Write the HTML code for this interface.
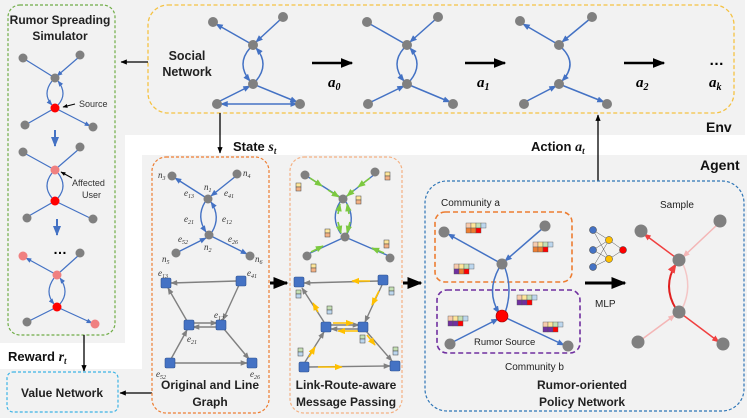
<!DOCTYPE html>
<html><head><meta charset="utf-8"><style>
html,body{margin:0;padding:0;background:#fff}
svg{display:block}
text{font-family:"Liberation Sans",sans-serif}
.b{font-weight:bold}
.m{font-family:"Liberation Serif",serif;font-style:italic;font-weight:bold}
.s{font-family:"Liberation Serif",serif;font-style:italic;font-size:9px;fill:#333}
</style></head><body>
<svg width="752" height="418" viewBox="0 0 752 418" xmlns="http://www.w3.org/2000/svg">
<defs>
<marker id="ab" viewBox="0 0 10 10" refX="9" refY="5" markerWidth="5" markerHeight="5" orient="auto-start-reverse"><path d="M0,1L10,5L0,9z" fill="#4472c4"/></marker>
<marker id="ak" viewBox="0 0 10 10" refX="9" refY="5" markerWidth="5" markerHeight="5" orient="auto"><path d="M0,1L10,5L0,9z" fill="#000"/></marker>
<marker id="ag" viewBox="0 0 10 10" refX="9" refY="5" markerWidth="5" markerHeight="5" orient="auto"><path d="M0,1L10,5L0,9z" fill="#808080"/></marker>
<marker id="agr" viewBox="0 0 10 10" refX="9" refY="5" markerWidth="5" markerHeight="5" orient="auto"><path d="M0,1L10,5L0,9z" fill="#7cc940"/></marker>
<marker id="ay" viewBox="0 0 10 10" refX="9" refY="5" markerWidth="5" markerHeight="5" orient="auto"><path d="M0,1L10,5L0,9z" fill="#ffc000"/></marker>
<marker id="ar" viewBox="0 0 10 10" refX="9" refY="5" markerWidth="5" markerHeight="5" orient="auto"><path d="M0,1L10,5L0,9z" fill="#f04040"/></marker>
<marker id="arl" viewBox="0 0 10 10" refX="9" refY="5" markerWidth="5" markerHeight="5" orient="auto"><path d="M0,1L10,5L0,9z" fill="#f4b6b6"/></marker>
<g id="ga">
<rect x="0" y="0" width="5" height="5" fill="#f8cbad" stroke="#555" stroke-width=".4"/><rect x="5" y="0" width="5" height="5" fill="#ffe699" stroke="#555" stroke-width=".4"/><rect x="10" y="0" width="5" height="5" fill="#c5e0b4" stroke="#555" stroke-width=".4"/><rect x="15" y="0" width="5" height="5" fill="#bdd7ee" stroke="#555" stroke-width=".4"/>
<rect x="0" y="5" width="5" height="5" fill="#ed7d31" stroke="#555" stroke-width=".4"/><rect x="5" y="5" width="5" height="5" fill="#ed7d31" stroke="#555" stroke-width=".4"/><rect x="10" y="5" width="5" height="5" fill="#ff0000" stroke="#555" stroke-width=".4"/>
</g>
<g id="gb">
<rect x="0" y="0" width="5" height="5" fill="#f8cbad" stroke="#555" stroke-width=".4"/><rect x="5" y="0" width="5" height="5" fill="#ffe699" stroke="#555" stroke-width=".4"/><rect x="10" y="0" width="5" height="5" fill="#c5e0b4" stroke="#555" stroke-width=".4"/><rect x="15" y="0" width="5" height="5" fill="#bdd7ee" stroke="#555" stroke-width=".4"/>
<rect x="0" y="5" width="5" height="5" fill="#7030a0" stroke="#555" stroke-width=".4"/><rect x="5" y="5" width="5" height="5" fill="#7030a0" stroke="#555" stroke-width=".4"/><rect x="10" y="5" width="5" height="5" fill="#ff0000" stroke="#555" stroke-width=".4"/>
</g>
<g id="gc">
<rect x="0" y="0" width="5" height="5" fill="#f8cbad" stroke="#555" stroke-width=".4"/><rect x="5" y="0" width="5" height="5" fill="#ffe699" stroke="#555" stroke-width=".4"/><rect x="10" y="0" width="5" height="5" fill="#c5e0b4" stroke="#555" stroke-width=".4"/><rect x="15" y="0" width="5" height="5" fill="#bdd7ee" stroke="#555" stroke-width=".4"/>
<rect x="0" y="5" width="5" height="5" fill="#7030a0" stroke="#555" stroke-width=".4"/><rect x="5" y="5" width="5" height="5" fill="#ed7d31" stroke="#555" stroke-width=".4"/><rect x="10" y="5" width="5" height="5" fill="#ff0000" stroke="#555" stroke-width=".4"/>
</g>
<g id="by"><rect x="0" y="0" width="5" height="4" fill="#ffe699" stroke="#444" stroke-width=".5"/><rect x="0" y="4" width="5" height="4" fill="#f4b183" stroke="#444" stroke-width=".5"/></g>
<g id="bb"><rect x="0" y="0" width="5" height="4" fill="#c5e0b4" stroke="#444" stroke-width=".5"/><rect x="0" y="4" width="5" height="4" fill="#bdd7ee" stroke="#444" stroke-width=".5"/></g>
</defs>

<!-- backgrounds -->
<rect x="0" y="0" width="752" height="418" fill="#fff"/>
<rect x="0" y="0" width="125" height="343" fill="#f2f2f2"/>
<rect x="125" y="0" width="620" height="135" fill="#f2f2f2"/>
<rect x="142" y="155" width="605" height="263" fill="#f2f2f2"/>
<rect x="0" y="369" width="150" height="49" fill="#f2f2f2"/>

<!-- Env -->
<rect x="148" y="5" width="586" height="108" rx="20" fill="none" stroke="#f5c242" stroke-width="1.3" stroke-dasharray="4,2.5"/>
<text x="187" y="60" font-size="12.5" text-anchor="middle" class="b" fill="#222">Social</text>
<text x="187" y="76" font-size="12.5" text-anchor="middle" class="b" fill="#222">Network</text>
<text x="706" y="132" font-size="14" class="b" fill="#111">Env</text>

<g stroke="#4472c4" stroke-width="1.5" fill="none">
<!-- graph 1 -->
<line x1="253" y1="45" x2="216" y2="24" marker-end="url(#ab)"/>
<line x1="282" y1="18" x2="256" y2="42" marker-end="url(#ab)"/>
<path d="M250,48 Q236,64 250,81" marker-end="url(#ab)"/>
<path d="M256,81 Q270,64 256,48" marker-end="url(#ab)"/>
<line x1="218" y1="102" x2="250" y2="86" marker-end="url(#ab)"/>
<line x1="253" y1="84" x2="297" y2="102" marker-end="url(#ab)"/>
<line x1="221" y1="104" x2="297" y2="104" marker-end="url(#ab)" marker-start="url(#ab)"/>
<!-- graph 2 -->
<line x1="407" y1="45" x2="370" y2="24" />
<line x1="437" y1="18" x2="410" y2="42" marker-end="url(#ab)"/>
<path d="M404,48 Q390,64 404,81" marker-end="url(#ab)"/>
<path d="M410,81 Q424,64 410,48" marker-end="url(#ab)"/>
<line x1="371" y1="102" x2="404" y2="86" marker-end="url(#ab)"/>
<line x1="407" y1="84" x2="450" y2="102" marker-end="url(#ab)"/>
<!-- graph 3 -->
<line x1="559" y1="45" x2="523" y2="24" marker-end="url(#ab)"/>
<line x1="591" y1="18" x2="562" y2="42" marker-end="url(#ab)"/>
<path d="M562,48 Q578,64 562,81" marker-end="url(#ab)"/>
<line x1="525" y1="102" x2="556" y2="86" marker-end="url(#ab)"/>
<line x1="559" y1="84" x2="604" y2="102" marker-end="url(#ab)"/>
</g>
<g fill="#808080">
<circle cx="213" cy="22" r="5"/><circle cx="283" cy="17" r="5"/><circle cx="253" cy="45" r="5"/><circle cx="253" cy="84" r="5"/><circle cx="217" cy="104" r="5"/><circle cx="300" cy="104" r="5"/>
<circle cx="367" cy="22" r="5"/><circle cx="438" cy="17" r="5"/><circle cx="407" cy="45" r="5"/><circle cx="407" cy="84" r="5"/><circle cx="368" cy="104" r="5"/><circle cx="453" cy="104" r="5"/>
<circle cx="520" cy="21" r="5"/><circle cx="592" cy="17" r="5"/><circle cx="559" cy="45" r="5"/><circle cx="559" cy="84" r="5"/><circle cx="524" cy="104" r="5"/><circle cx="607" cy="104" r="5"/>
</g>
<g stroke="#000" stroke-width="2.5"><line x1="312" y1="63" x2="352" y2="63" marker-end="url(#ak)"/><line x1="465" y1="63" x2="505" y2="63" marker-end="url(#ak)"/><line x1="624" y1="63" x2="664" y2="63" marker-end="url(#ak)"/></g>
<text x="328" y="87" font-size="15" class="m">a<tspan font-size="10" dy="3">0</tspan></text>
<text x="477" y="87" font-size="15" class="m">a<tspan font-size="10" dy="3">1</tspan></text>
<text x="636" y="87" font-size="15" class="m">a<tspan font-size="10" dy="3">2</tspan></text>
<text x="709" y="65" font-size="15" class="b">…</text>
<text x="709" y="87" font-size="15" class="m">a<tspan font-size="10" dy="3">k</tspan></text>

<!-- Simulator -->
<rect x="8" y="5" width="107" height="330" rx="12" fill="none" stroke="#70ad47" stroke-width="1.2" stroke-dasharray="3,2"/>
<text x="60" y="24" font-size="12" text-anchor="middle" class="b" fill="#222">Rumor Spreading</text>
<text x="60" y="40" font-size="12" text-anchor="middle" class="b" fill="#222">Simulator</text>
<g stroke="#4472c4" stroke-width="1.2" fill="none">
<line x1="55" y1="78" x2="26" y2="60" /><line x1="79" y1="57" x2="57" y2="76" marker-end="url(#ab)"/>
<path d="M52,81 Q42,94 52,105" marker-end="url(#ab)"/><path d="M58,105 Q68,94 58,81" marker-end="url(#ab)"/>
<line x1="55" y1="108" x2="27" y2="124"/><line x1="55" y1="108" x2="90" y2="126" marker-end="url(#ab)"/>
<line x1="55" y1="170" x2="26" y2="154" /><line x1="79" y1="149" x2="57" y2="168" />
<path d="M52,173 Q42,186 52,198" /><path d="M58,198 Q68,186 58,173" />
<line x1="55" y1="201" x2="27" y2="217"/><line x1="55" y1="201" x2="90" y2="218"/>
<line x1="57" y1="275" x2="26" y2="258" marker-end="url(#ab)"/><line x1="79" y1="255" x2="59" y2="273"/>
<path d="M54,278 Q44,292 54,304" marker-end="url(#ab)"/><path d="M60,304 Q70,292 60,278" marker-end="url(#ab)"/>
<line x1="57" y1="307" x2="29" y2="321"/><line x1="57" y1="307" x2="92" y2="323" marker-end="url(#ab)"/>
</g>
<g stroke="#4472c4" stroke-width="2"><line x1="55" y1="130" x2="55" y2="146" marker-end="url(#ab)"/><line x1="57" y1="219" x2="57" y2="235" marker-end="url(#ab)"/></g>
<g fill="#808080"><circle cx="23" cy="58" r="4.5"/><circle cx="80" cy="55" r="4.5"/><circle cx="55" cy="78" r="4.5"/><circle cx="25" cy="125" r="4.5"/><circle cx="93" cy="127" r="4.5"/>
<circle cx="23" cy="152" r="4.5"/><circle cx="80" cy="147" r="4.5"/><circle cx="27" cy="218" r="4.5"/><circle cx="93" cy="219" r="4.5"/>
<circle cx="80" cy="253" r="4.5"/><circle cx="27" cy="322" r="4.5"/></g>
<g fill="#f08080"><circle cx="55" cy="170" r="4.5"/><circle cx="23" cy="256" r="4.5"/><circle cx="57" cy="275" r="4.5"/><circle cx="95" cy="324" r="4.5"/></g>
<g fill="#ff0000"><circle cx="55" cy="108" r="4.5"/><circle cx="55" cy="201" r="4.5"/><circle cx="57" cy="307" r="4.5"/></g>
<text x="53" y="254" font-size="14" class="b">…</text>
<line x1="75" y1="104" x2="63" y2="107" stroke="#000" stroke-width="1" marker-end="url(#ak)"/>
<text x="79" y="107" font-size="9" fill="#333">Source</text>
<line x1="72" y1="178" x2="61" y2="172" stroke="#000" stroke-width="1" marker-end="url(#ak)"/>
<text x="72" y="186" font-size="9" fill="#333">Affected</text>
<text x="82" y="198" font-size="9" fill="#333">User</text>

<!-- connections -->
<g stroke="#000" stroke-width="1.3" fill="none">
<line x1="148" y1="62" x2="121" y2="62" marker-end="url(#ak)"/>
<line x1="220" y1="113" x2="220" y2="153" marker-end="url(#ak)"/>
<line x1="598" y1="181" x2="598" y2="115" marker-end="url(#ak)"/>
<line x1="84" y1="335" x2="84" y2="371" marker-end="url(#ak)"/>
<line x1="152" y1="393" x2="120" y2="393" marker-end="url(#ak)"/>
</g>
<text x="233" y="151" font-size="13" class="b" fill="#111">State <tspan class="m" font-size="14">s<tspan font-size="9" dy="3">t</tspan></tspan></text>
<text x="531" y="151" font-size="13" class="b" fill="#111">Action <tspan class="m" font-size="14">a<tspan font-size="9" dy="3">t</tspan></tspan></text>
<text x="700" y="170" font-size="14" class="b" fill="#111">Agent</text>
<text x="8" y="361" font-size="13" class="b" fill="#111">Reward <tspan class="m" font-size="14">r<tspan font-size="9" dy="3">t</tspan></tspan></text>
<rect x="7" y="372" width="111" height="40" rx="6" fill="none" stroke="#3cb4e6" stroke-width="1.2" stroke-dasharray="3,2"/>
<text x="62" y="397" font-size="12" text-anchor="middle" class="b" fill="#222">Value Network</text>

<!-- Original and line graph -->
<rect x="152" y="157" width="117" height="256" rx="14" fill="none" stroke="#ed7d31" stroke-width="1.2" stroke-dasharray="3,2"/>
<g stroke="#4472c4" stroke-width="1.4" fill="none">
<line x1="208" y1="199" x2="175" y2="178" marker-end="url(#ab)"/>
<line x1="236" y1="176" x2="211" y2="196" marker-end="url(#ab)"/>
<path d="M205,202 Q196,217 206,232" marker-end="url(#ab)"/>
<path d="M212,232 Q221,217 211,202" marker-end="url(#ab)"/>
<line x1="178" y1="252" x2="206" y2="238" marker-end="url(#ab)"/>
<line x1="209" y1="235" x2="247" y2="254" marker-end="url(#ab)"/>
</g>
<g fill="#808080"><circle cx="172" cy="176" r="4.5"/><circle cx="237" cy="174" r="4.5"/><circle cx="208" cy="199" r="4.5"/><circle cx="209" cy="235" r="4.5"/><circle cx="176" cy="253" r="4.5"/><circle cx="250" cy="256" r="4.5"/></g>
<text x="158" y="178" class="s">n<tspan font-size="6" dy="2">3</tspan></text>
<text x="243" y="176" class="s">n<tspan font-size="6" dy="2">4</tspan></text>
<text x="204" y="190" class="s">n<tspan font-size="6" dy="2">1</tspan></text>
<text x="204" y="250" class="s">n<tspan font-size="6" dy="2">2</tspan></text>
<text x="162" y="262" class="s">n<tspan font-size="6" dy="2">5</tspan></text>
<text x="255" y="262" class="s">n<tspan font-size="6" dy="2">6</tspan></text>
<text x="184" y="196" class="s">e<tspan font-size="6" dy="2">13</tspan></text>
<text x="224" y="196" class="s">e<tspan font-size="6" dy="2">41</tspan></text>
<text x="184" y="222" class="s">e<tspan font-size="6" dy="2">21</tspan></text>
<text x="222" y="222" class="s">e<tspan font-size="6" dy="2">12</tspan></text>
<text x="178" y="242" class="s">e<tspan font-size="6" dy="2">52</tspan></text>
<text x="228" y="242" class="s">e<tspan font-size="6" dy="2">26</tspan></text>
<g stroke="#808080" stroke-width="1.4" fill="none">
<line x1="237" y1="281" x2="171" y2="283" marker-end="url(#ag)"/>
<line x1="239" y1="285" x2="223" y2="320" marker-end="url(#ag)"/>
<line x1="187" y1="321" x2="168" y2="288" marker-end="url(#ag)"/>
<line x1="193" y1="323" x2="217" y2="323" marker-end="url(#ag)"/>
<line x1="217" y1="327" x2="193" y2="327" marker-end="url(#ag)"/>
<line x1="171" y1="359" x2="187" y2="330" marker-end="url(#ag)"/>
<line x1="224" y1="329" x2="249" y2="359" marker-end="url(#ag)"/>
<line x1="175" y1="363" x2="247" y2="363" marker-end="url(#ag)"/>
</g>
<g fill="#4472c4" stroke="#2f528f" stroke-width=".6">
<rect x="161" y="278" width="10" height="10" rx="1.5"/><rect x="236" y="276" width="10" height="10" rx="1.5"/><rect x="184" y="320" width="10" height="10" rx="1.5"/><rect x="216" y="320" width="10" height="10" rx="1.5"/><rect x="165" y="358" width="10" height="10" rx="1.5"/><rect x="247" y="358" width="10" height="10" rx="1.5"/></g>
<text x="158" y="276" class="s">e<tspan font-size="6" dy="2">13</tspan></text>
<text x="247" y="276" class="s">e<tspan font-size="6" dy="2">41</tspan></text>
<text x="214" y="318" class="s">e<tspan font-size="6" dy="2">12</tspan></text>
<text x="187" y="342" class="s">e<tspan font-size="6" dy="2">21</tspan></text>
<text x="156" y="377" class="s">e<tspan font-size="6" dy="2">52</tspan></text>
<text x="250" y="377" class="s">e<tspan font-size="6" dy="2">26</tspan></text>
<text x="210" y="389" font-size="12" text-anchor="middle" class="b" fill="#222">Original and Line</text>
<text x="210" y="406" font-size="12" text-anchor="middle" class="b" fill="#222">Graph</text>

<!-- Message passing -->
<rect x="290" y="157" width="112" height="256" rx="14" fill="none" stroke="#f4b183" stroke-width="1.2" stroke-dasharray="3,2"/>
<g stroke="#4472c4" stroke-width="1.4" fill="none">
<line x1="305" y1="175" x2="343" y2="199"/><line x1="375" y1="174" x2="343" y2="199"/>
<path d="M340,202 Q330,218 341,234"/><path d="M347,234 Q356,218 346,202"/>
<line x1="306" y1="255" x2="345" y2="237"/><line x1="345" y1="237" x2="389" y2="256"/>
</g>
<g stroke="#7cc940" stroke-width="1.6" fill="none">
<line x1="310" y1="178" x2="322" y2="186" marker-end="url(#agr)"/><line x1="328" y1="190" x2="339" y2="197" marker-end="url(#agr)"/>
<line x1="370" y1="178" x2="358" y2="187" marker-end="url(#agr)"/><line x1="354" y1="190" x2="347" y2="196" marker-end="url(#agr)"/>
<line x1="311" y1="252" x2="323" y2="246" marker-end="url(#agr)"/><line x1="384" y1="253" x2="372" y2="248" marker-end="url(#agr)"/>
<line x1="338" y1="214" x2="340" y2="204" marker-end="url(#agr)"/><line x1="349" y1="214" x2="347" y2="204" marker-end="url(#agr)"/>
<line x1="338" y1="222" x2="341" y2="233" marker-end="url(#agr)"/><line x1="350" y1="222" x2="347" y2="233" marker-end="url(#agr)"/>
</g>
<g fill="#808080"><circle cx="305" cy="175" r="4.5"/><circle cx="375" cy="172" r="4.5"/><circle cx="343" cy="199" r="4.5"/><circle cx="345" cy="237" r="4.5"/><circle cx="307" cy="256" r="4.5"/><circle cx="390" cy="258" r="4.5"/></g>
<use href="#by" x="296" y="183"/><use href="#by" x="385" y="172"/><use href="#by" x="356" y="196"/><use href="#by" x="325" y="229"/><use href="#by" x="384" y="240"/><use href="#by" x="311" y="264"/>
<g stroke="#808080" stroke-width="1.4" fill="none">
<line x1="379" y1="281" x2="304" y2="283" marker-end="url(#ag)"/>
<line x1="382" y1="285" x2="365" y2="322" marker-end="url(#ag)"/>
<line x1="324" y1="322" x2="302" y2="288" marker-end="url(#ag)"/>
<line x1="331" y1="325" x2="359" y2="325" marker-end="url(#ag)"/>
<line x1="359" y1="329" x2="331" y2="329" marker-end="url(#ag)"/>
<line x1="305" y1="362" x2="324" y2="332" marker-end="url(#ag)"/>
<line x1="366" y1="331" x2="392" y2="361" marker-end="url(#ag)"/>
<line x1="309" y1="367" x2="390" y2="366" marker-end="url(#ag)"/>
</g>
<g stroke="#ffc000" stroke-width="1.6" fill="none">
<line x1="370" y1="281" x2="352" y2="281" marker-end="url(#ay)"/>
<line x1="379" y1="291" x2="372" y2="305" marker-end="url(#ay)"/>
<line x1="318" y1="312" x2="313" y2="303" marker-end="url(#ay)"/>
<line x1="333" y1="323" x2="353" y2="323" marker-end="url(#ay)"/>
<line x1="358" y1="331" x2="338" y2="331" marker-end="url(#ay)"/>
<line x1="309" y1="357" x2="315" y2="347" marker-end="url(#ay)"/>
<line x1="367" y1="335" x2="375" y2="345" marker-end="url(#ay)"/>
<line x1="318" y1="367" x2="342" y2="367" marker-end="url(#ay)"/>
</g>
<g fill="#4472c4" stroke="#2f528f" stroke-width=".6">
<rect x="294" y="277" width="10" height="10" rx="1.5"/><rect x="378" y="275" width="10" height="10" rx="1.5"/><rect x="321" y="322" width="10" height="10" rx="1.5"/><rect x="358" y="322" width="10" height="10" rx="1.5"/><rect x="299" y="362" width="10" height="10" rx="1.5"/><rect x="390" y="361" width="10" height="10" rx="1.5"/></g>
<use href="#bb" x="296" y="290"/><use href="#bb" x="389" y="287"/><use href="#bb" x="327" y="306"/><use href="#bb" x="360" y="335"/><use href="#bb" x="298" y="348"/><use href="#bb" x="393" y="347"/>
<text x="346" y="389" font-size="12" text-anchor="middle" class="b" fill="#222">Link-Route-aware</text>
<text x="346" y="406" font-size="12" text-anchor="middle" class="b" fill="#222">Message Passing</text>

<g stroke="#000" stroke-width="3"><line x1="270" y1="283" x2="287" y2="283" marker-end="url(#ak)"/><line x1="403" y1="283" x2="421" y2="283" marker-end="url(#ak)"/><line x1="585" y1="283" x2="625" y2="283" marker-end="url(#ak)"/></g>

<!-- Policy -->
<rect x="425" y="181" width="319" height="230" rx="22" fill="none" stroke="#2e75b6" stroke-width="1.2" stroke-dasharray="3,2"/>
<rect x="435" y="212" width="137" height="70" rx="10" fill="none" stroke="#ed7d31" stroke-width="1.6" stroke-dasharray="5,3"/>
<rect x="437" y="290" width="143" height="63" rx="10" fill="none" stroke="#7030a0" stroke-width="1.6" stroke-dasharray="5,3"/>
<text x="441" y="206" font-size="10" fill="#222">Community a</text>
<text x="505" y="370" font-size="10" fill="#222">Community b</text>
<text x="474" y="345" font-size="9.5" fill="#222">Rumor Source</text>
<g stroke="#4472c4" stroke-width="1.5" fill="none">
<line x1="502" y1="264" x2="448" y2="234" marker-end="url(#ab)"/>
<line x1="543" y1="228" x2="505" y2="261" marker-end="url(#ab)"/>
<path d="M499,268 Q486,292 499,313" marker-end="url(#ab)"/>
<path d="M505,313 Q513,290 505,268" />
<line x1="451" y1="343" x2="498" y2="319" marker-end="url(#ab)"/>
<line x1="502" y1="316" x2="564" y2="345" marker-end="url(#ab)"/>
</g>
<g fill="#808080"><circle cx="444" cy="232" r="5.5"/><circle cx="545" cy="226" r="5.5"/><circle cx="502" cy="264" r="5.5"/><circle cx="450" cy="344" r="5.5"/><circle cx="568" cy="346" r="5.5"/></g>
<circle cx="502" cy="316" r="6" fill="#ff0000" stroke="#900" stroke-width=".6"/>
<use href="#ga" x="466" y="223"/><use href="#ga" x="533" y="242"/><use href="#gc" x="454" y="264"/><use href="#gb" x="517" y="295"/><use href="#gb" x="448" y="316"/><use href="#gb" x="543" y="322"/>
<!-- NN -->
<g stroke="#555" stroke-width=".5">
<line x1="593" y1="230" x2="609" y2="240"/><line x1="593" y1="230" x2="609" y2="259"/><line x1="593" y1="250" x2="609" y2="240"/><line x1="593" y1="250" x2="609" y2="259"/><line x1="593" y1="267" x2="609" y2="240"/><line x1="593" y1="267" x2="609" y2="259"/><line x1="609" y1="240" x2="623" y2="250"/><line x1="609" y1="259" x2="623" y2="250"/></g>
<g stroke="#333" stroke-width=".5"><circle cx="593" cy="230" r="3.5" fill="#4472c4"/><circle cx="593" cy="250" r="3.5" fill="#4472c4"/><circle cx="593" cy="267" r="3.5" fill="#4472c4"/><circle cx="609" cy="240" r="3.5" fill="#ffc000"/><circle cx="609" cy="259" r="3.5" fill="#ffc000"/><circle cx="623" cy="250" r="3.5" fill="#ff0000"/></g>
<text x="595" y="307" font-size="10" fill="#222">MLP</text>
<text x="660" y="208" font-size="10" fill="#222">Sample</text>
<g fill="none" stroke-width="1.5">
<line x1="679" y1="260" x2="644" y2="234" stroke="#f04040" marker-end="url(#ar)"/>
<line x1="718" y1="224" x2="683" y2="257" stroke="#f4b6b6" marker-end="url(#arl)"/>
<path d="M676,309 Q662,286 676,264" stroke="#e02020" stroke-width="2" marker-end="url(#ar)"/>
<path d="M683,264 Q693,287 682,309" stroke="#f4c6c6"/>
<line x1="641" y1="340" x2="675" y2="315" stroke="#f4b6b6" marker-end="url(#arl)"/>
<line x1="679" y1="312" x2="719" y2="342" stroke="#f04040" marker-end="url(#ar)"/>
</g>
<g fill="#808080"><circle cx="641" cy="231" r="6.5"/><circle cx="720" cy="221" r="6.5"/><circle cx="679" cy="260" r="6.5"/><circle cx="679" cy="312" r="6.5"/><circle cx="638" cy="342" r="6.5"/><circle cx="723" cy="344" r="6.5"/></g>
<text x="582" y="389" font-size="12" text-anchor="middle" class="b" fill="#222">Rumor-oriented</text>
<text x="582" y="406" font-size="12" text-anchor="middle" class="b" fill="#222">Policy Network</text>
</svg>
</body></html>
